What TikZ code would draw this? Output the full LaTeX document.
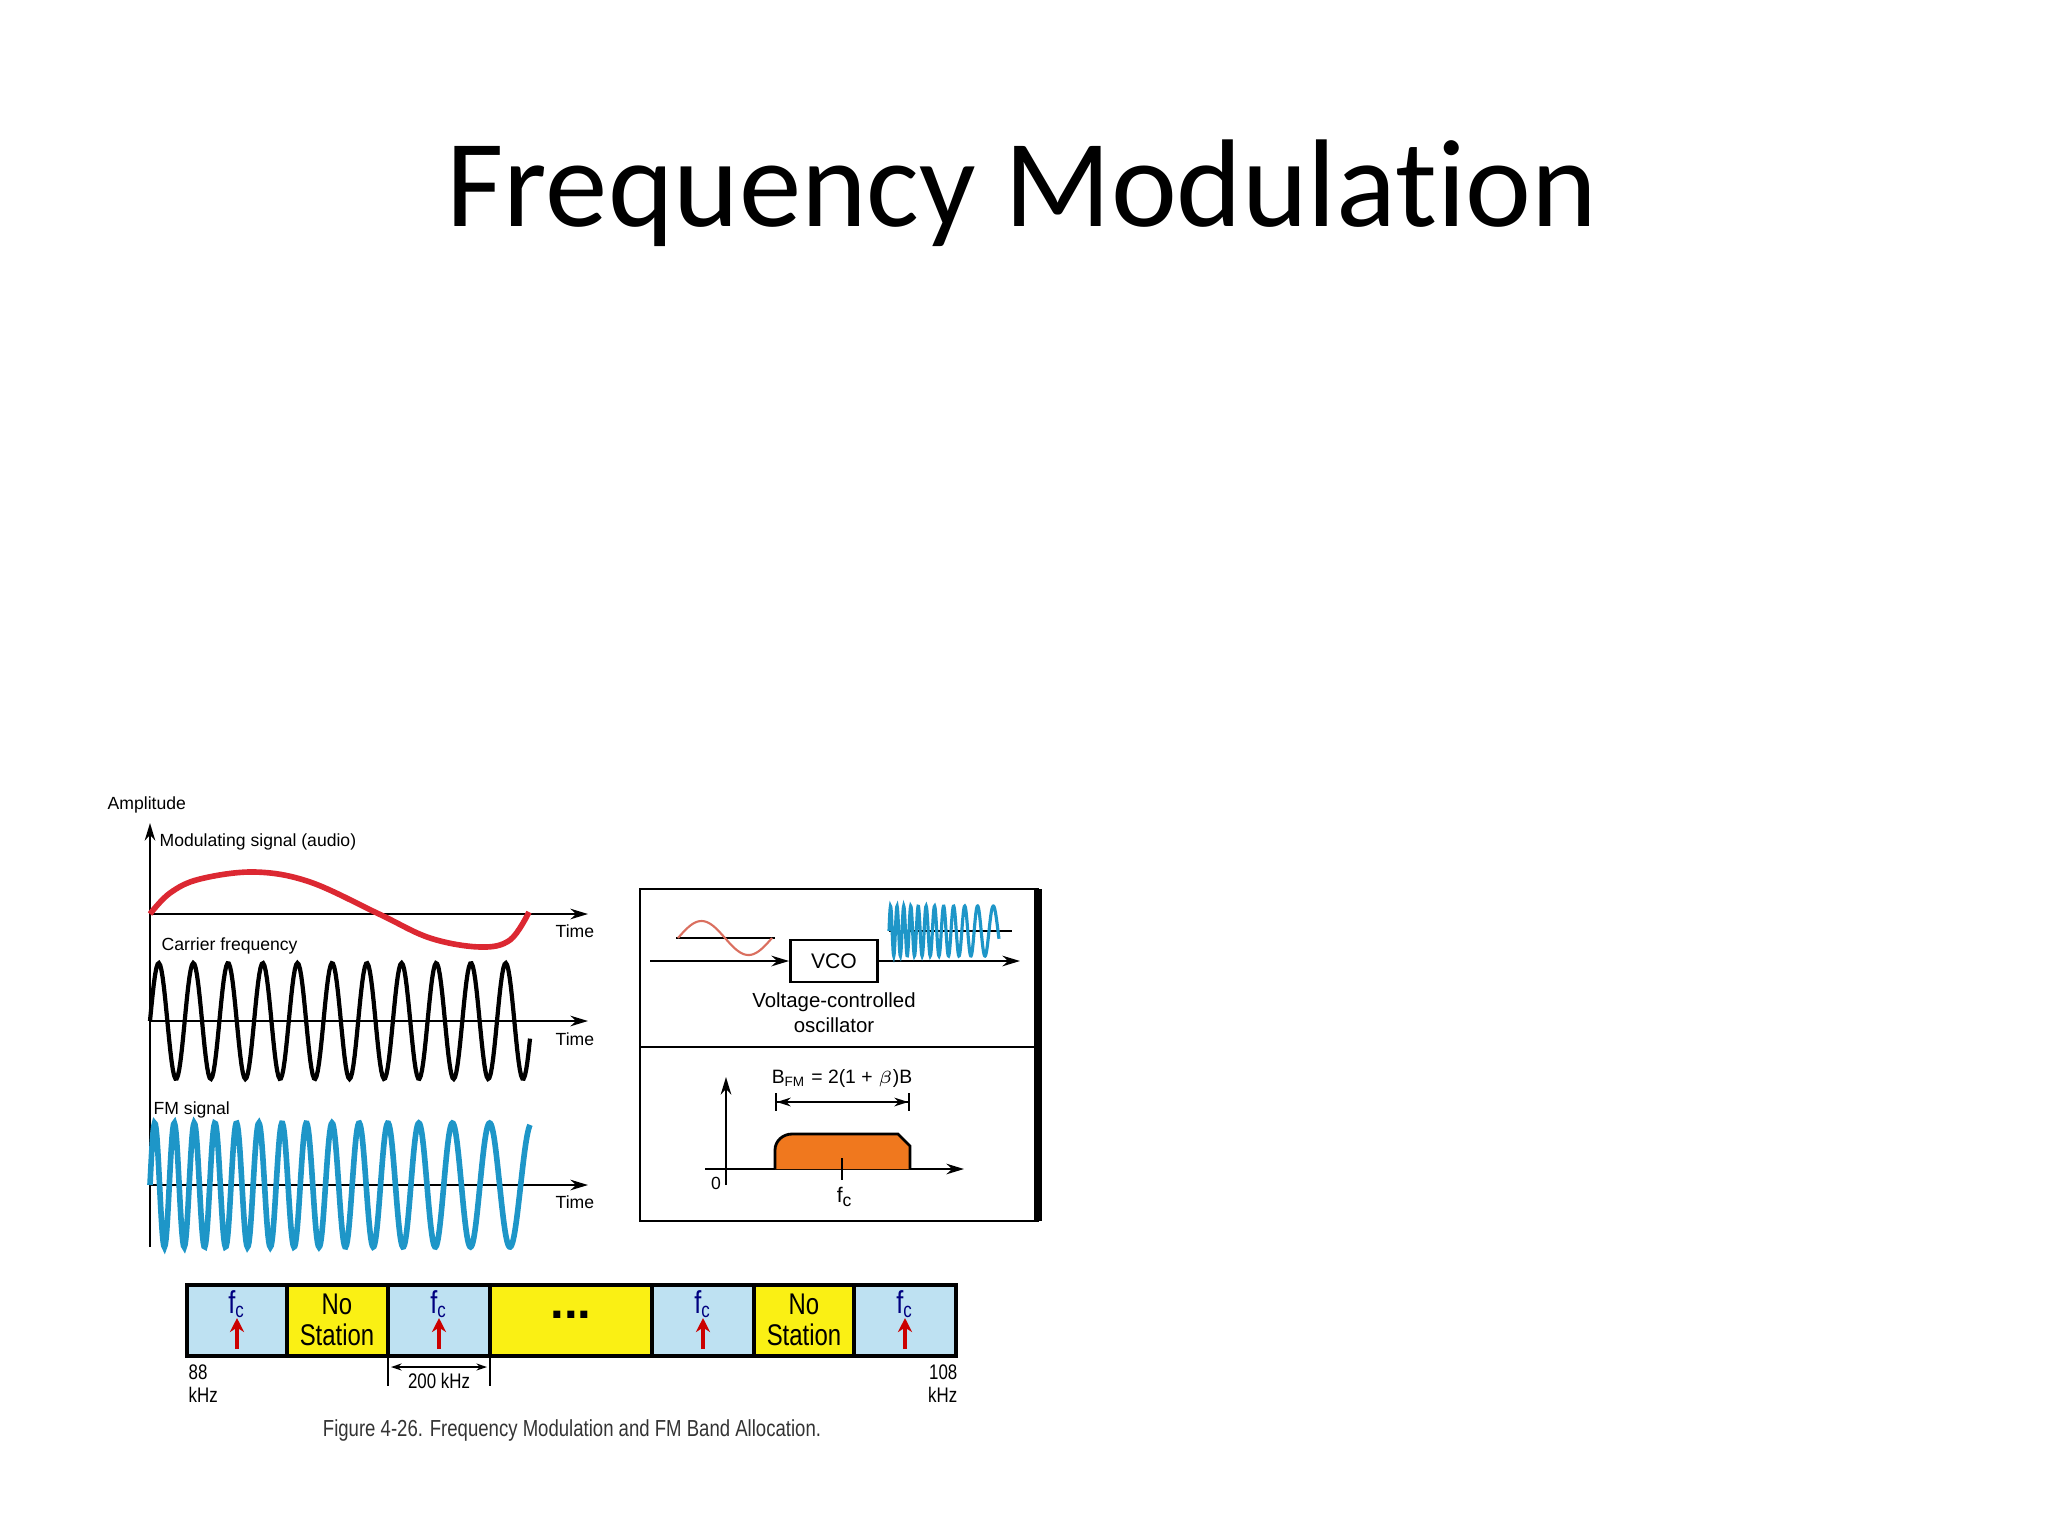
\documentclass[tikz,border=0pt]{standalone}
\usepackage{fontspec}
\setmainfont{Liberation Sans}
\newfontfamily\titlefont{Carlito}
\newfontfamily\cond[FakeStretch=0.8]{Liberation Sans}
\usetikzlibrary{arrows.meta}
\definecolor{fmblue}{RGB}{30,150,200}
\definecolor{sigred}{RGB}{220,40,50}
\definecolor{bandblue}{RGB}{190,225,242}
\definecolor{bandyel}{RGB}{250,240,20}
\definecolor{orng}{RGB}{240,120,30}
\tikzset{
 lab/.style={font=\fontsize{5}{6}\selectfont, inner sep=0pt},
 ax/.style={line width=0.7pt,-{Stealth[length=5pt,width=3pt]}},
 seg/.style={draw=black, line width=1pt},
 blab/.style={font=\cond\fontsize{8.5}{9}\selectfont, align=center, inner sep=0pt},
}
\begin{document}
\begin{tikzpicture}[x=0.01cm,y=-0.01cm]
\useasboundingbox (0,0) rectangle (2048,1536);
\node[font=\titlefont\fontsize{35.5}{40}\selectfont] (title) at (1022,193) {Frequency Modulat\kern0pt ion};
% left plots
\node[lab,anchor=west] (amp) at (107,805) {Amplitude};
\coordinate (o) at (150,1247);
\coordinate (top) at (150,823);
\draw[ax] (o) -- (top);
\node[lab,anchor=west] (modl) at (159,842) {Modulating signal (audio)};
\coordinate (a1s) at (150,914); \coordinate (a1e) at (588,914);
\draw[ax] (a1s) -- (a1e);
\node[lab,anchor=north west] (t1) at (555,924) {Time};
\draw[sigred,line width=1.6pt] plot[smooth,tension=0.6] coordinates {(150,914) (170,893) (200,879) (255,872) (310,882) (379,914) (430,938) (480,947) (510,940) (529,912)};
\node[lab,anchor=west] (carl) at (161,946) {Carrier frequency};
\coordinate (a2s) at (150,1021); \coordinate (a2e) at (588,1021);
\draw[ax] (a2s) -- (a2e);
\node[lab,anchor=north west] (t2) at (555,1032) {Time};
\draw[black,line width=1.2pt] plot[domain=0:380,samples=300] ({150+\x},{1021-58*sin(\x/34.7*360)});
\node[lab,anchor=west] (fml) at (153,1110) {FM signal};
\coordinate (a3s) at (150,1185); \coordinate (a3e) at (588,1185);
\draw[ax] (a3s) -- (a3e);
\node[lab,anchor=north west] (t3) at (555,1195) {Time};
\draw[fmblue,line width=1.6pt] plot[domain=0:380,samples=500] ({150+\x},{1185-62*sin(360*(0.0526*\x-0.4*(\x/100)*(\x/100)))});
% right box
\draw[line width=0.8pt] (640,889) rectangle (1038,1221);
\draw[line width=2pt] (1038,889) -- (1038,1221);
\draw[line width=0.8pt] (640,1047) -- (1038,1047);
\node[draw,line width=0.8pt,minimum width=0.87cm,minimum height=0.42cm,inner sep=0pt,font=\fontsize{6}{7}\selectfont] (vco) at (834,961) {VCO};
\coordinate (in) at (650,961);
\coordinate (out) at (1020,961);
\draw[ax] (in) -- (vco);
\draw[ax] (vco) -- (out);
\draw[line width=0.5pt] (676,938) -- (775,938);
\draw[sigred!60!brown!80,line width=0.6pt] plot[domain=0:94,samples=60] ({678+\x},{938-17*sin(\x/94*360)});
\draw[line width=0.6pt] (889,931) -- (1012,931);
\draw[fmblue,line width=0.9pt] plot[domain=0:110,samples=300] ({889+\x},{931-25*sin(360*(0.16*\x-5*(\x/100)*(\x/100)))});
\node[lab,align=center,font=\fontsize{5.8}{7}\selectfont] (vcol) at (834,1013) {Voltage-controlled\\oscillator};
% spectrum
\coordinate (sy0) at (726,1185); \coordinate (sy1) at (726,1077);
\draw[ax] (sy0) -- (sy1);
\coordinate (sx0) at (705,1169); \coordinate (sx1) at (964,1169);
\draw[ax] (sx0) -- (sx1);
\node[lab] (zero) at (716,1183) {0};
\draw[fill=orng,line width=0.8pt] (775,1169) -- (775,1150) to[out=90,in=180] (792,1134) -- (898,1134) -- (910,1146) -- (910,1169);
\draw[line width=0.5pt] (842,1158) -- (842,1180);
\node[lab,font=\fontsize{6}{7}\selectfont] (fc0) at (845,1197) {f\textsubscript{c}};
\coordinate (b0) at (775,1102); \coordinate (b1) at (910,1102);
\draw[line width=0.5pt,{Bar[width=5pt]Stealth[length=4pt,width=2.5pt]}-{Stealth[length=4pt,width=2.5pt]Bar[width=5pt]}] (b0) -- (b1);
\node[lab,font=\fontsize{5.5}{6}\selectfont] (bfm) at (842,1078) {B\textsubscript{FM} = 2(1 + $\beta$)B};
% band
\fill[bandblue] (187,1285) rectangle (956,1356);
\foreach \a/\b in {287/388,490/652,754/854}{\fill[bandyel] (\a,1285) rectangle (\b,1356);}
\draw[seg] (187,1285) rectangle (956,1356);
\foreach \a in {287,388,490,652,754,854}{\draw[seg] (\a,1285) -- (\a,1356);}
\foreach \c/\n in {237/s1,439/s3,703/s5,905/s7}{
  \node[blab,text=blue!50!black,font=\cond\fontsize{9}{9}\selectfont] (\n) at (\c,1304) {f\textsubscript{c}};
  \coordinate (\n a) at (\c,1349); \coordinate (\n b) at (\c,1318);
  \draw[red!80!black,line width=1.2pt,-{Stealth[length=4pt,width=4pt]}] (\n a) -- (\n b);
}
\node[blab] (ns1) at (337,1320) {No\\Station};
\node[blab] (ns2) at (804,1320) {No\\Station};
\node[blab,font=\bfseries\fontsize{14}{14}\selectfont] (dots) at (571,1315) {...};
\node[blab,anchor=north west,align=left,font=\cond\fontsize{6}{6.5}\selectfont] (k88) at (188,1364) {88\\kHz};
\node[blab,anchor=north east,align=right,font=\cond\fontsize{6}{6.5}\selectfont] (k108) at (958,1364) {108\\kHz};
\draw[line width=0.8pt] (388,1356) -- (388,1386);
\draw[line width=0.8pt] (490,1356) -- (490,1386);
\coordinate (w0) at (391,1367); \coordinate (w1) at (487,1367);
\draw[line width=0.5pt,{Stealth[length=3pt,width=2pt]}-{Stealth[length=3pt,width=2pt]}] (w0) -- (w1);
\node[blab,font=\cond\fontsize{6}{6.5}\selectfont,fill=white,inner sep=0.5pt] (w) at (439,1381) {200 kHz};
\node[blab,font=\cond\fontsize{6.6}{8}\selectfont,text=black!80] (cap) at (572,1430) {Figure 4-26. Frequency Modulation and FM Band Allocation.};
\end{tikzpicture}
\end{document}
